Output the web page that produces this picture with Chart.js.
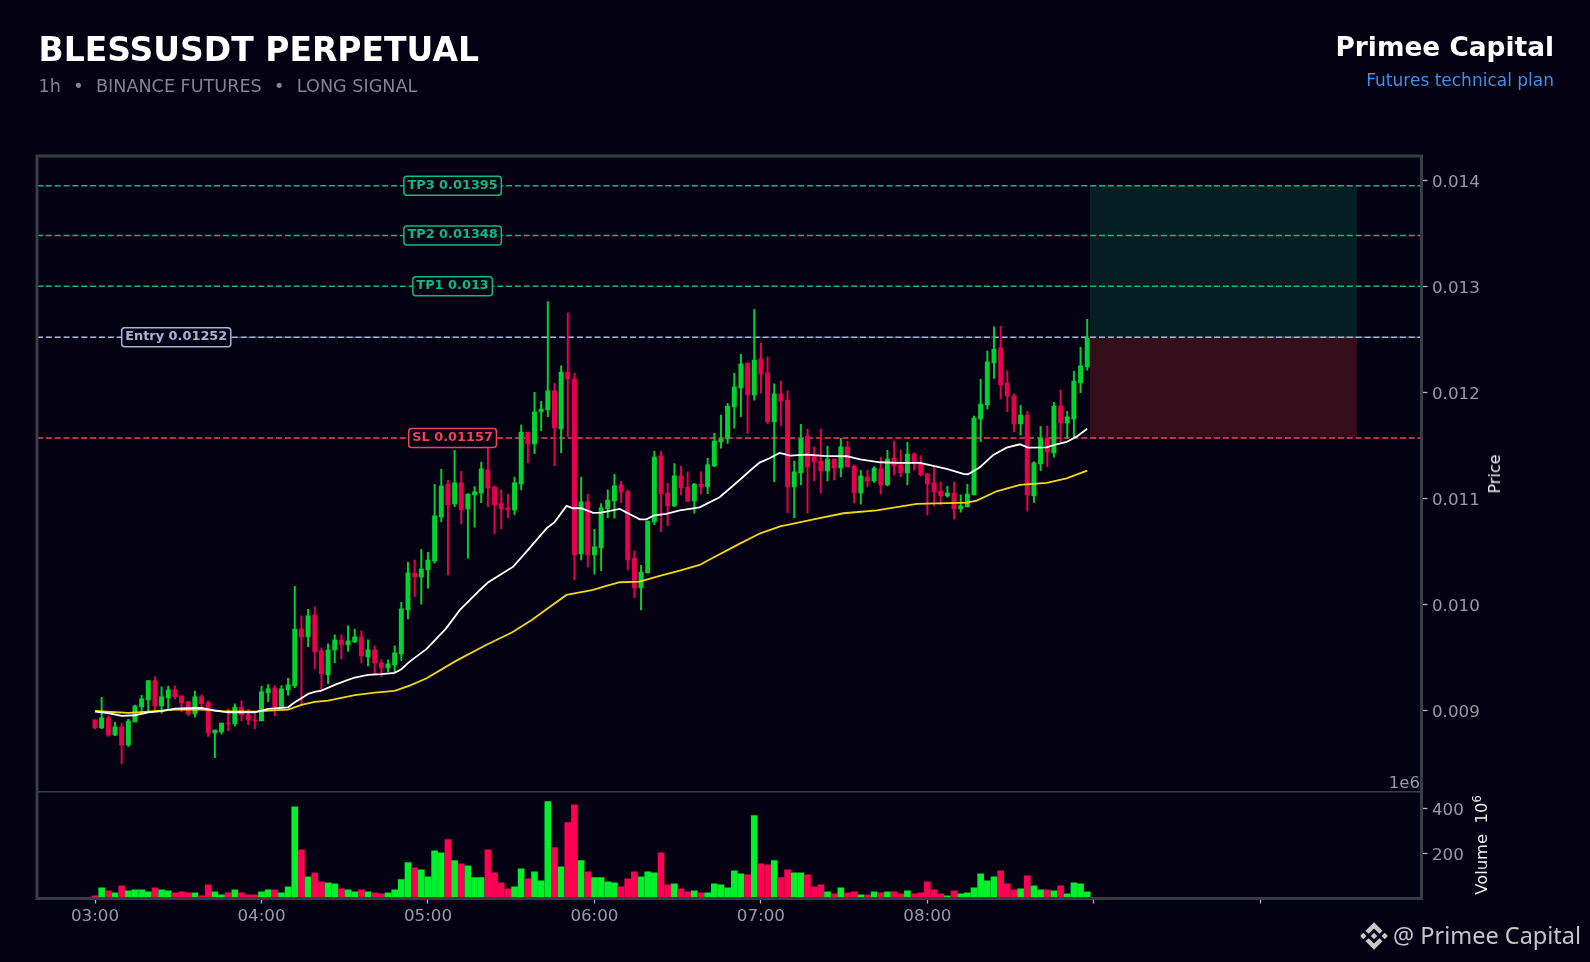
<!DOCTYPE html>
<html><head><meta charset="utf-8">
<script src="https://cdn.jsdelivr.net/npm/chart.js@4"></script>
<style>
html,body{margin:0;padding:0;background:#030112;width:1590px;height:962px;overflow:hidden}
#c{position:absolute;left:0;top:0}
.t{position:absolute;line-height:1;white-space:pre;font-family:"DejaVu Sans"}
.r{right:36px;text-align:right}
.rot{transform:translate(-50%,-50%) rotate(-90deg)}
.b{margin:0 1.2px}
sup{font-size:11.5px;line-height:0;vertical-align:6px}
</style></head><body>
<canvas id="c" width="1590" height="962"></canvas>
<div class="t" style="left:38.5px;top:33.4px;font-weight:bold;font-size:33px;color:#fff">BLESSUSDT PERPETUAL</div>
<div class="t" style="left:38.5px;top:77.6px;font-size:17.6px;color:#84848e">1h  <span class="b">•</span>  BINANCE FUTURES  <span class="b">•</span>  LONG SIGNAL</div>
<div class="t r" style="top:33.6px;font-weight:bold;font-size:26.4px;color:#fff">Primee Capital</div>
<div class="t r" style="top:72px;font-size:17px;color:#3f8fe6">Futures technical plan</div>
<div class="t rot" style="left:1495px;top:473.5px;font-size:16px;color:#f0f0f2">Price</div>
<div class="t rot" style="left:1482px;top:845px;font-size:16.4px;color:#f0f0f2">Volume  10<sup>6</sup></div>
<div class="t" style="right:170px;top:774.5px;font-size:16.6px;color:#9a9aa2">1e6</div>
<svg style="position:absolute;left:1360px;top:922px" width="28" height="28" viewBox="0 0 126 126"><path fill="#c8c8cc" d="M38.73 53.2L63 28.93l24.28 24.28 14.12-14.12L63 .69 24.61 39.08zM.69 63l14.12-14.12L28.93 63 14.81 77.12zM38.73 72.8L63 97.07l24.28-24.28 14.13 14.11L63 125.31 24.61 86.92zM97.07 63l14.12-14.12L125.31 63l-14.12 14.12zM77.32 63L63 48.67 52.41 59.26l-1.22 1.22-2.51 2.51L63 77.33 77.32 63z"/></svg>
<div class="t" style="left:1393px;top:923.6px;font-family:'Noto Sans';font-size:23.5px;color:#c6c6ca">@ Primee Capital</div>
<script>
const opens=[.008909,.008833,.008928,.008767,.008843,.008673,.00889,.009031,.009097,.009277,
.009041,.009116,.009192,.009135,.009079,.008965,.009126,.009069,.008786,.008796,
.00888,.008871,.009031,.008956,.008909,.008899,.009164,.009211,.009031,.009192,
.00923,.009767,.009692,.009899,.00956,.009333,.009569,.009664,.009616,.009645,
.009692,.009503,.009569,.009447,.009399,.009428,.009531,.009947,.010293,.010258,
.010324,.010409,.010824,.011135,.010947,.011145,.0109,.011032,.01105,.011268,
.011107,.010956,.010909,.01089,.011135,.011626,.011513,.011815,.011834,.012013,
.011654,.012192,.012126,.010475,.010966,.010466,.010532,.0109,.010975,.011126,
.01106,.010437,.010154,.010296,.010777,.0114,.01105,.010928,.011211,.011107,
.010975,.011135,.011107,.011305,.011532,.01156,.011862,.012041,.012277,.011975,
.012315,.012183,.01172,.011985,.011928,.011107,.011239,.011588,.0114,.011352,
.011258,.011371,.011286,.011485,.011305,.01105,.011201,.011164,.011277,.011126,
.011381,.011315,.011239,.011418,.011334,.01123,.011145,.011069,.011022,.01105,
.0109,.010918,.011032,.011749,.011881,.012277,.012419,.012088,.011966,.011701,
.011786,.011022,.011324,.011569,.011428,.011871,.011711,.011749,.012088,.012239];
const closes=[.008836,.008928,.008767,.008843,.008673,.008899,.009041,.009107,.009277,.009041,
.009126,.009192,.009126,.009069,.008965,.009126,.00906,.008786,.008814,.00888,
.008874,.009031,.008956,.008909,.008899,.009173,.009201,.009031,.009201,.009239,
.009767,.009692,.00989,.00955,.009343,.009569,.009664,.009616,.009654,.009692,
.009513,.009569,.009447,.009399,.009437,.009541,.009956,.010296,.010258,.010333,
.010418,.010834,.011117,.010937,.011145,.01089,.011041,.01106,.011277,.011098,
.010937,.0109,.01089,.011145,.011626,.011513,.011815,.011843,.012013,.011664,
.012192,.012126,.010466,.010966,.010466,.010541,.010909,.010984,.011117,.01106,
.010418,.010154,.010305,.010786,.01139,.011041,.010928,.011211,.011098,.010975,
.011135,.011107,.011315,.011541,.01156,.011871,.012051,.012268,.011975,.012305,
.012173,.01172,.011985,.011919,.011107,.011249,.01156,.011296,.011343,.011258,
.011371,.011286,.011485,.011296,.01105,.011211,.011164,.011286,.011126,.011371,
.011305,.011239,.011418,.011334,.01122,.011135,.01106,.011022,.01105,.0109,
.010928,.011041,.011758,.01189,.012287,.012409,.01207,.011966,.011701,.011786,
.011032,.011334,.011569,.011437,.011871,.011711,.011768,.012107,.012249,.012513];
const highs=[.008909,.009123,.008947,.008887,.00888,.008915,.00905,.009142,.009283,.009315,
.00922,.009226,.00923,.009135,.009085,.009182,.009145,.009088,.008814,.00888,
.009013,.00906,.009088,.009009,.008978,.009226,.009242,.009236,.009233,.009302,
.01017,.00989,.009953,.009975,.009588,.009626,.009711,.009711,.009796,.009767,
.009749,.009664,.009607,.009475,.009475,.009607,.010019,.010396,.010418,.010519,
.010491,.011132,.011274,.01117,.011453,.011255,.011044,.01111,.01134,.011488,
.011117,.011079,.011041,.011201,.011692,.011626,.012,.011915,.012856,.012085,
.012249,.012749,.01218,.011198,.011038,.010708,.01095,.011079,.011227,.011161,
.011079,.010503,.010368,.010786,.011444,.011444,.011142,.011327,.011305,.011249,
.011142,.011249,.011378,.011613,.011786,.011897,.01218,.012359,.012277,.012783,
.012466,.012334,.012079,.012107,.012013,.011352,.011698,.011654,.011485,.011654,
.011491,.011371,.011566,.011541,.011315,.011264,.011267,.011299,.011387,.011453,
.011541,.011456,.011529,.011428,.0114,.011239,.011296,.011154,.011113,.011154,
.011032,.011132,.011777,.012123,.01239,.012617,.012623,.012202,.011985,.011878,
.011821,.011346,.01168,.011683,.011906,.012022,.011821,.012199,.012425,.012689];
const lows=[.008824,.008827,.008752,.008761,.008497,.008657,.00889,.008987,.008984,.008997,
.008972,.009003,.00911,.008987,.00895,.008934,.009019,.008752,.008553,.008774,
.008808,.008849,.008899,.008865,.008827,.008899,.009082,.00895,.009013,.009142,
.009214,.00905,.009601,.00939,.009192,.009252,.00945,.009484,.009554,.009638,
.009447,.009418,.009343,.009318,.009365,.009365,.009469,.009862,.010072,.01,
.010151,.010387,.01078,.010277,.010922,.010758,.010434,.010727,.010959,.010922,
.010667,.010714,.010818,.010846,.011082,.011334,.011422,.011639,.011771,.011308,
.011431,.011582,.010233,.010418,.010352,.010283,.010318,.010818,.010812,.010959,
.010324,.010063,.009947,.010296,.010752,.010686,.010742,.010922,.011032,.010966,
.010859,.011041,.011044,.011296,.011472,.011519,.011661,.011771,.01161,.011925,
.011991,.011705,.011157,.011683,.010862,.010818,.011126,.010862,.011164,.01105,
.011164,.011173,.011205,.011296,.010959,.010944,.011107,.011151,.011041,.011117,
.01122,.011201,.011126,.011267,.011211,.010843,.010928,.010937,.01101,.010805,
.010868,.010918,.011032,.011535,.011843,.012132,.011937,.011818,.011629,.011595,
.010881,.010962,.011261,.011296,.011387,.011535,.011566,.011582,.011997,.012208];
const volumes=[12,48,34,25,57,34,39,39,30,48,39,34,25,30,25,25,12,61,30,16,
25,39,25,16,16,30,39,39,25,52,410,218,97,115,75,70,66,43,39,30,
39,30,25,21,25,39,84,160,137,128,97,213,204,263,169,155,146,93,93,218,
115,70,43,52,133,88,119,79,433,227,142,339,419,169,119,93,93,75,70,52,
88,119,97,119,115,204,61,66,43,30,34,25,25,66,61,48,124,110,106,370,
155,151,169,93,128,115,115,106,52,61,30,21,48,25,30,16,16,30,25,30,
30,21,34,21,25,75,39,21,12,34,21,25,48,110,79,97,124,66,39,43,
101,57,39,39,34,57,21,70,66,30];
const fastIdx=[0,2,4,6,8,10,12,14,16,18,20,22,24,26,29,30,31,32,33,34,36,38,39,41,43,45,46,47.25,49.8,52.7,54.8,57.8,59,60.8,62.8,64.8,67.8,69,70.8,71.8,73,74.8,76,78.8,81.8,82.8,84,85.8,87.8,90.8,93.8,96.8,98.3,99.8,101.3,102.8,104.4,106.8,109.4,112.9,114.9,117.9,120.4,123.9,127.9,130.4,131.1,132.9,134.9,136.9,138.9,140.1,142.9,144.4,145.9,147.4,149];
const fastVal=[.008987,.008972,.008947,.008953,.008981,.008991,.009016,.009019,.009022,.008997,.008981,.008981,.008981,.009013,.009028,.009075,.009113,.009154,.009173,.009186,.009239,.009287,.009309,.009334,.00934,.009353,.009387,.009459,.009579,.009771,.009947,.010135,.010205,.010277,.010355,.010497,.010717,.010774,.010928,.010906,.010906,.010862,.010865,.0109,.010802,.010802,.01084,.010852,.010887,.010915,.01101,.011173,.011258,.011337,.011378,.011428,.011403,.011412,.0114,.011397,.011368,.01134,.011334,.011334,.011277,.01123,.011227,.011293,.011409,.011478,.01151,.011478,.011481,.01151,.011532,.011582,.011657];
const slowIdx=[0,3,5,8,12,15,17,19,24,26,29,31,33,35,39,42,45,47.25,49.8,54.2,58.8,62.6,65.7,67.8,70.8,72.8,74.8,76.8,78.8,81.8,84.8,87.8,90.8,92.3,96.9,99.9,103,104,107.9,112.4,117.4,123.4,130.9,132.4,135.4,138.9,142.9,145.9,149];
const slowVal=[.008994,.008981,.008975,.008987,.009006,.009009,.009003,.008991,.008987,.008997,.009006,.00905,.009079,.009091,.009142,.009167,.009182,.009233,.009302,.009466,.009618,.009733,.009857,.009953,.010088,.010113,.010135,.010173,.010208,.010214,.010267,.010318,.010371,.010422,.010575,.01067,.010737,.010749,.010802,.010859,.010887,.010947,.010959,.010978,.011066,.011126,.011145,.011189,.011261];
const levelNames=["TP3","TP2","TP1","Entry","SL"];
const levelValues=[.01395,.01348,.013,.01252,.01157];
const levelColors=["#10b981","#10b981","#10b981","#a9b1d6","#f0435a"];
const levelLabelIdx=[53.7,53.7,53.7,12.2,53.7];
const zoneIdx=[149.4,189.5];
const zoneRewardColor="rgba(16,185,129,0.16)";
const zoneRiskColor="rgba(239,68,68,0.21)";
const xTickValues=[0,25,50,75,100,125,150,175];
const xTickLabels=["03:00","04:00","05:00","06:00","07:00","08:00","",""];
const priceTicks=[.009,.01,.011,.012,.013,.014];
const volumeTicks=[200,400];
const xLimits=[-8.71,199.2];
const priceLimits=[.00823,.01423];
const volumeLimits=[0,476.5];

const idx=opens.map((_,i)=>i);
const isUp=i=>closes[i]>=opens[i];
const candleCol=i=>isUp(i)?"#00d22f":"#e6004e";
const volCol=i=>isUp(i)?"#00f02c":"#ff0055";
const BG="#030112",SP="#3a3c46",TL="#9a9aa2",TM="#b4b4bc";
const tickFont={family:"DejaVu Sans",size:16.7};
const yTickFont={family:"DejaVu Sans",size:16.7,lineHeight:"4px"};

const datasets=[
 {type:"bar",yAxisID:"yVol",grouped:false,order:9,data:idx.map(i=>({x:i,y:volumes[i]})),backgroundColor:idx.map(volCol),barThickness:6},
 ...levelValues.map((v,k)=>({type:"line",yAxisID:"y",order:8,data:[{x:xLimits[0],y:v},{x:xLimits[1],y:v}],borderColor:levelColors[k],borderWidth:1.5,borderDash:[6,2.85],pointRadius:0,tension:0})),
 {type:"line",yAxisID:"y",order:8,data:[{x:xLimits[0],y:levelValues[3]},{x:xLimits[1],y:levelValues[3]}],borderColor:"rgba(235,235,245,.4)",borderWidth:1,borderDash:[5.5,3.5],pointRadius:0},
 {type:"bar",yAxisID:"y",grouped:false,order:5,data:idx.map(i=>({x:i,y:[lows[i],highs[i]]})),backgroundColor:idx.map(candleCol),barThickness:1.3},
 {type:"bar",yAxisID:"y",grouped:false,order:4,data:idx.map(i=>({x:i,y:[opens[i],closes[i]]})),backgroundColor:idx.map(candleCol),barThickness:4.3},
 {type:"line",yAxisID:"y",order:2,data:slowIdx.map((x,k)=>({x,y:slowVal[k]})),borderColor:"#f2d813",borderWidth:1.8,pointRadius:0,tension:0},
 {type:"line",yAxisID:"y",order:1,data:fastIdx.map((x,k)=>({x,y:fastVal[k]})),borderColor:"#ffffff",borderWidth:1.8,pointRadius:0,tension:0}
];

const plan={id:"plan",
 beforeDatasetsDraw(c){
  const g=c.ctx,x=c.scales.x,y=c.scales.y,l=x.getPixelForValue(zoneIdx[0]),r=x.getPixelForValue(zoneIdx[1]);
  g.save();
  g.fillStyle=zoneRewardColor;g.fillRect(l,y.getPixelForValue(levelValues[0]),r-l,y.getPixelForValue(levelValues[3])-y.getPixelForValue(levelValues[0]));
  g.fillStyle=zoneRiskColor;g.fillRect(l,y.getPixelForValue(levelValues[3]),r-l,y.getPixelForValue(levelValues[4])-y.getPixelForValue(levelValues[3]));
  g.restore();
 },
 afterDatasetsDraw(c){
  const g=c.ctx,x=c.scales.x,y=c.scales.y,a=c.chartArea;
  g.save();
  g.font="bold 12.9px 'DejaVu Sans'";g.textAlign="center";g.textBaseline="middle";
  levelNames.forEach((n,k)=>{
   const t=n+" "+levelValues[k],w=g.measureText(t).width+7,h=19,cx=x.getPixelForValue(levelLabelIdx[k]),cy=y.getPixelForValue(levelValues[k]);
   g.beginPath();g.roundRect(cx-w/2,cy-h/2,w,h,3);g.fillStyle=BG;g.fill();g.lineWidth=1.5;g.strokeStyle=levelColors[k];g.stroke();
   g.fillStyle=levelColors[k];g.fillText(t,cx,cy-.5);
  });
  g.strokeStyle=SP;g.lineWidth=3;g.strokeRect(a.left,a.top,a.right-a.left,a.bottom-a.top);
  g.lineWidth=1.5;g.beginPath();g.moveTo(a.left,y.bottom);g.lineTo(a.right,y.bottom);g.stroke();
  g.restore();
 }};

new Chart(document.getElementById("c"),{
 data:{datasets},
 plugins:[plan],
 options:{responsive:false,animation:false,devicePixelRatio:1,
  layout:{padding:{left:37,top:156,right:0,bottom:0}},
  plugins:{legend:{display:false},tooltip:{enabled:false}},
  scales:{
   x:{type:"linear",offset:false,min:xLimits[0],max:xLimits[1],
    afterBuildTicks:s=>{s.ticks=xTickValues.map(v=>({value:v}))},
    afterFit:s=>{s.height=63.5},
    grid:{display:true,offset:false,drawOnChartArea:false,tickLength:5,tickColor:TM,tickWidth:1.3},border:{display:false},
    ticks:{color:TL,font:tickFont,padding:3,maxRotation:0,autoSkip:false,callback:v=>xTickLabels[xTickValues.indexOf(v)]}},
   y:{type:"linear",position:"right",stack:"p",stackWeight:635,min:priceLimits[0],max:priceLimits[1],
    afterBuildTicks:s=>{s.ticks=priceTicks.map(v=>({value:v}))},
    afterFit:s=>{s.width=168.5},
    grid:{display:true,drawOnChartArea:false,tickLength:6,tickColor:TM,tickWidth:1.3},border:{display:false},
    ticks:{color:TL,font:yTickFont,padding:4.5,callback:v=>["",v.toFixed(3)]}},
   yVol:{type:"linear",position:"right",stack:"p",stackWeight:106.5,min:volumeLimits[0],max:volumeLimits[1],
    afterBuildTicks:s=>{s.ticks=volumeTicks.map(v=>({value:v}))},
    afterFit:s=>{s.width=168.5},
    grid:{display:true,drawOnChartArea:false,tickLength:6,tickColor:TM,tickWidth:1.3},border:{display:false},
    ticks:{color:TL,font:yTickFont,padding:4.5,callback:v=>["",String(v)]}}
  }}});
</script>
</body></html>
